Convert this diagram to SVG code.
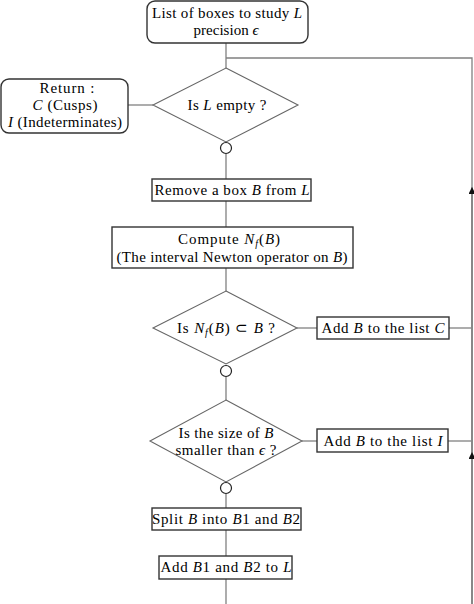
<svg xmlns="http://www.w3.org/2000/svg" width="474" height="604" viewBox="0 0 474 604">
<defs>
<style>
text{font-family:"Liberation Serif","Times New Roman",serif;font-size:15px;fill:#000;text-anchor:middle}
.i{font-style:italic}
.box{fill:#fff;stroke:#333;stroke-width:1.4}
.dia{fill:#fff;stroke:#666;stroke-width:1.1}
.con{fill:none;stroke:#808080;stroke-width:1.3}
.side{fill:none;stroke:#888;stroke-width:2}
.dot{fill:#fff;stroke:#222;stroke-width:1.2}
</style>
<marker id="ah" viewBox="0 0 10 10" refX="10" refY="5" markerUnits="userSpaceOnUse" markerWidth="8" markerHeight="7" orient="auto">
<path d="M0,0 L10,5 L0,10 z" fill="#111"/>
</marker>
</defs>
<rect width="474" height="604" fill="#fff"/>
<g id="connectors">
<path class="con" d="M226 43 V68"/>
<path class="con" d="M128 105 H153"/>
<path class="con" d="M226 153.5 V179"/>
<path class="con" d="M226 201 V227"/>
<path class="con" d="M226 268 V291"/>
<path class="con" d="M297 328 H317"/>
<path class="con" d="M449 328 H472"/>
<path class="con" d="M226 376.5 V400"/>
<path class="con" d="M302 441 H317"/>
<path class="con" d="M448 441 H472"/>
<path class="con" d="M226 493.5 V508"/>
<path class="con" d="M226 530 V556"/>
<path class="con" d="M226 579 V604"/>
<path class="side" d="M472 604 V452" marker-end="url(#ah)"/>
<path class="side" d="M472 452 V187" marker-end="url(#ah)"/>
<path class="con" d="M472 188 V58 H226"/>
</g>
<g id="start">
<rect class="box" x="147" y="1" width="161" height="42" rx="8"/>
<text x="227" y="18" textLength="150">List of boxes to study <tspan class="i">L</tspan></text>
<text x="226" y="35" textLength="65">precision <tspan class="i">ϵ</tspan></text>
</g>
<g id="return">
<rect class="box" x="1" y="79" width="127" height="54" rx="8"/>
<text x="67" y="93" textLength="55">Return :</text>
<text x="65" y="110" textLength="65"><tspan class="i">C</tspan> (Cusps)</text>
<text x="65" y="127" textLength="114"><tspan class="i">I</tspan> (Indeterminates)</text>
</g>
<g id="empty">
<polygon class="dia" points="226,68 298,105 226,142 153,105"/>
<text x="227" y="110" textLength="79">Is <tspan class="i">L</tspan> empty ?</text>
<circle class="dot" cx="226" cy="148" r="5.5"/>
</g>
<g id="remove">
<rect class="box" x="152" y="179" width="159" height="22"/>
<text x="232" y="195" textLength="155">Remove a box <tspan class="i">B</tspan> from <tspan class="i">L</tspan></text>
</g>
<g id="compute">
<rect class="box" x="112" y="227" width="241" height="41"/>
<text x="229" y="244" textLength="102">Compute <tspan class="i">N</tspan><tspan class="i" font-size="10" dy="2.5">f</tspan><tspan dy="-2.5">(</tspan><tspan class="i">B</tspan>)</text>
<text x="232" y="262" textLength="231">(The interval Newton operator on <tspan class="i">B</tspan>)</text>
</g>
<g id="contained">
<polygon class="dia" points="226,291 297,328 226,364 153,328"/>
<text x="226" y="333" textLength="98">Is <tspan class="i">N</tspan><tspan class="i" font-size="10" dy="2.5">f</tspan><tspan dy="-2.5">(</tspan><tspan class="i">B</tspan>) ⊂ <tspan class="i">B</tspan> ?</text>
<circle class="dot" cx="226" cy="371" r="5.5"/>
</g>
<g id="addC">
<rect class="box" x="317" y="317" width="132" height="22"/>
<text x="383" y="333" textLength="123">Add <tspan class="i">B</tspan> to the list <tspan class="i">C</tspan></text>
</g>
<g id="size">
<polygon class="dia" points="226,400 302,441 226,482 150,441"/>
<text x="226" y="438" textLength="95">Is the size of <tspan class="i">B</tspan></text>
<text x="226" y="455" textLength="101">smaller than <tspan class="i">ϵ</tspan> ?</text>
<circle class="dot" cx="226" cy="488" r="5.5"/>
</g>
<g id="addI">
<rect class="box" x="317" y="429" width="131" height="23"/>
<text x="383" y="446" textLength="119">Add <tspan class="i">B</tspan> to the list <tspan class="i">I</tspan></text>
</g>
<g id="split">
<rect class="box" x="152" y="508" width="149" height="22"/>
<text x="226" y="524" textLength="148">Split <tspan class="i">B</tspan> into <tspan class="i">B</tspan>1 and <tspan class="i">B</tspan>2</text>
</g>
<g id="addB1B2">
<rect class="box" x="159" y="556" width="133" height="23"/>
<text x="226" y="572" textLength="131">Add <tspan class="i">B</tspan>1 and <tspan class="i">B</tspan>2 to <tspan class="i">L</tspan></text>
</g>
</svg>
